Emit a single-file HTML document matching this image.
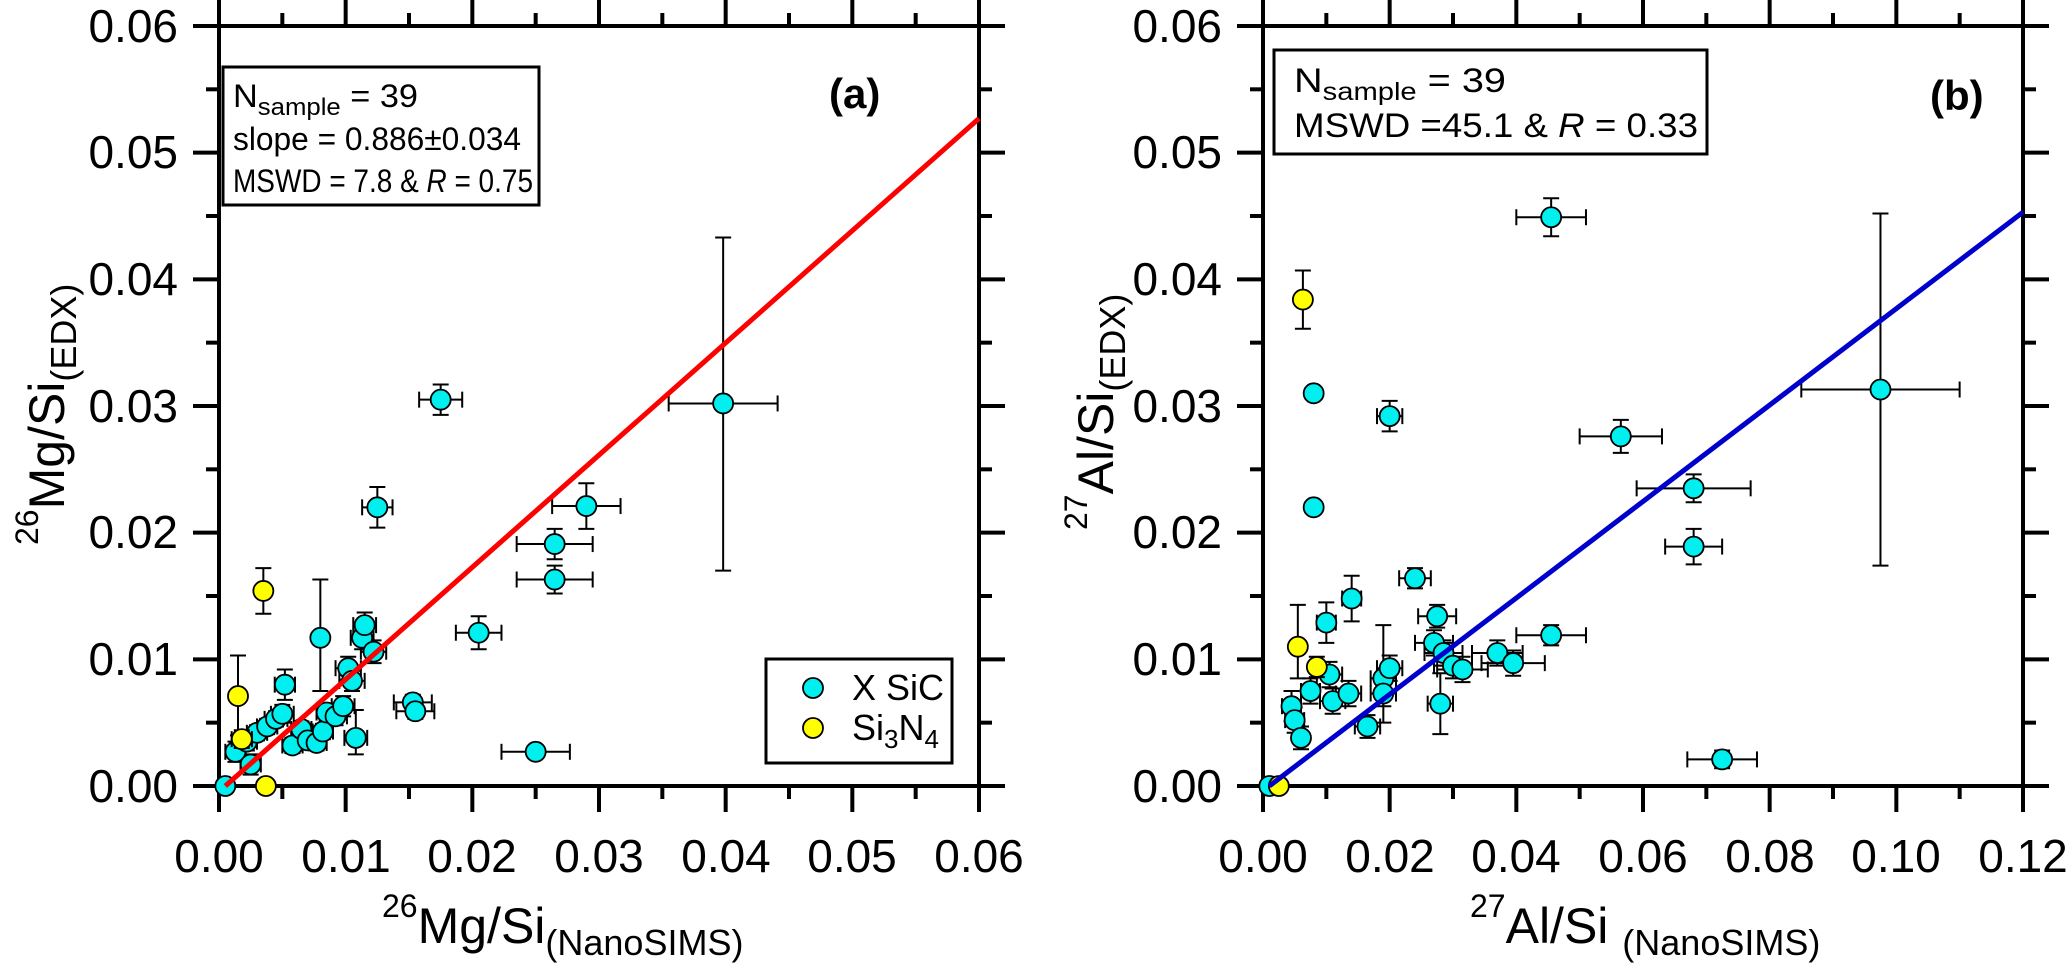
<!DOCTYPE html>
<html><head><meta charset="utf-8"><style>
html,body{margin:0;padding:0;background:#fff;}
svg{display:block;font-family:"Liberation Sans",Arial,sans-serif;}
</style></head><body>
<svg id="s" width="2070" height="967" viewBox="0 0 2070 967" xmlns="http://www.w3.org/2000/svg">
<g id="g"></g>
<g font-size="46" text-anchor="end">
<text x="178" y="802">0.00</text><text x="178" y="675">0.01</text><text x="178" y="548">0.02</text><text x="178" y="422">0.03</text><text x="178" y="295">0.04</text><text x="178" y="168">0.05</text><text x="178" y="42">0.06</text>
<text x="1222" y="802">0.00</text><text x="1222" y="675">0.01</text><text x="1222" y="548">0.02</text><text x="1222" y="422">0.03</text><text x="1222" y="295">0.04</text><text x="1222" y="168">0.05</text><text x="1222" y="42">0.06</text>
</g>
<g font-size="46" text-anchor="middle">
<text x="219" y="872">0.00</text><text x="346" y="872">0.01</text><text x="472" y="872">0.02</text><text x="599" y="872">0.03</text><text x="726" y="872">0.04</text><text x="852" y="872">0.05</text><text x="979" y="872">0.06</text>
<text x="1263" y="872">0.00</text><text x="1390" y="872">0.02</text><text x="1516" y="872">0.04</text><text x="1643" y="872">0.06</text><text x="1770" y="872">0.08</text><text x="1896" y="872">0.10</text><text x="2023" y="872">0.12</text>
</g>
<text x="382" y="943" font-size="50"><tspan font-size="32" dy="-26">26</tspan><tspan dy="26">Mg/Si</tspan><tspan font-size="36" dy="12">(NanoSIMS)</tspan></text>
<text x="1470" y="943" font-size="50"><tspan font-size="32" dy="-26">27</tspan><tspan dy="26">Al/Si </tspan><tspan font-size="36" dy="12">(NanoSIMS)</tspan></text>
<text transform="translate(64,545) rotate(-90)" font-size="50"><tspan font-size="32" dy="-26">26</tspan><tspan dy="26">Mg/Si</tspan><tspan font-size="36" dy="12">(EDX)</tspan></text>
<text transform="translate(1113,530) rotate(-90)" font-size="50"><tspan font-size="32" dy="-26">27</tspan><tspan dy="26">Al/Si</tspan><tspan font-size="36" dy="12">(EDX)</tspan></text>
<rect x="223" y="67" width="316" height="138" fill="#fff" stroke="#000" stroke-width="3"/>
<g font-size="32">
<text x="233" y="107" textLength="185" lengthAdjust="spacingAndGlyphs">N<tspan font-size="24" dy="8">sample</tspan><tspan dy="-8"> = 39</tspan></text>
<text x="233" y="150" textLength="288" lengthAdjust="spacingAndGlyphs">slope = 0.886±0.034</text>
<text x="233" y="192" textLength="300" lengthAdjust="spacingAndGlyphs">MSWD = 7.8 &amp; <tspan font-style="italic">R</tspan> = 0.75</text>
</g>
<text x="829" y="108" font-size="42" font-weight="bold">(a)</text>
<rect x="1274" y="50" width="433" height="104" fill="#fff" stroke="#000" stroke-width="3"/>
<g font-size="34">
<text x="1294" y="92" textLength="212" lengthAdjust="spacingAndGlyphs">N<tspan font-size="25" dy="8">sample</tspan><tspan dy="-8"> = 39</tspan></text>
<text x="1294" y="137" textLength="404" lengthAdjust="spacingAndGlyphs">MSWD =45.1 &amp; <tspan font-style="italic">R</tspan> = 0.33</text>
</g>
<text x="1930" y="110" font-size="42" font-weight="bold">(b)</text>
<rect x="766" y="659" width="186" height="104" fill="#fff" stroke="#000" stroke-width="3"/>
<circle cx="813" cy="688" r="10" fill="#00f0f0" stroke="#000" stroke-width="1.8"/>
<circle cx="813" cy="728" r="10" fill="#ffff00" stroke="#000" stroke-width="1.8"/>
<text x="852" y="700" font-size="36">X SiC</text>
<text x="852" y="740" font-size="36">Si<tspan font-size="26" dy="8">3</tspan><tspan dy="-8">N</tspan><tspan font-size="26" dy="8">4</tspan></text>
</svg>
<script>
var g=document.getElementById('g'),NS='http://www.w3.org/2000/svg';
function el(t,a){var e=document.createElementNS(NS,t);for(var k in a)e.setAttribute(k,a[k]);g.appendChild(e);return e;}
function ln(x1,y1,x2,y2,w,c){el('line',{x1:x1,y1:y1,x2:x2,y2:y2,stroke:c||'#000','stroke-width':w});}
var Y0=786,S=12667;
function frame(L,R,xs){
 var T=26,B=786;
 el('rect',{x:L,y:T,width:R-L,height:B-T,fill:'none',stroke:'#000','stroke-width':4});
 for(var i=0;i<=12;i++){var y=B-i*0.005*S,len=(i%2==0)?26:13;ln(L-len,y,L,y,4);ln(R,y,R+len,y,4);}
 var n=Math.round(xs.max/xs.minor);
 for(var i=0;i<=n;i++){var x=L+i*(R-L)/n,len=(i%2==0)?26:13;ln(x,B,x,B+len,4);ln(x,T-len,x,T,4);}
}
frame(219,979,{max:0.06,minor:0.005});
frame(1263,2023,{max:0.12,minor:0.01});
function pts(list,X,col){
 list.forEach(function(p){
  var x=X(p[0]),y=Y0-p[1]*S;
  if(p[2]){var a=X(p[0]-p[2]),b=X(p[0]+p[2]);ln(a,y,b,y,2);ln(a,y-8,a,y+8,2);ln(b,y-8,b,y+8,2);}
  if(p[3]){var lo,hi;if(p[3].length){lo=p[3][0];hi=p[3][1];}else{lo=p[1]-p[3];hi=p[1]+p[3];}
   var ya=Y0-lo*S,yb=Y0-hi*S;ln(x,ya,x,yb,2);ln(x-8,ya,x+8,ya,2);ln(x-8,yb,x+8,yb,2);}
 });
 list.forEach(function(p){el('circle',{cx:X(p[0]),cy:Y0-p[1]*S,r:10,fill:col,stroke:'#000','stroke-width':1.8});});
}
var XA=function(v){return 219+v*S;},XB=function(v){return 1263+v*6333;};
var aC=[[0.0005,0,0,0],[0.0013,0.0027,0.0008,0.0008],[0.0025,0.0017,0.0008,0.0008],[0.0022,0.0035,0.0008,0.0007],[0.003,0.0042,0.0008,0.0006],[0.0038,0.0047,0.0008,0.0006],[0.0045,0.0053,0.0009,0.0006],[0.005,0.0057,0.0009,0.0007],[0.0052,0.008,0.0008,0.0012],[0.0058,0.0032,0.0008,0.0006],[0.0065,0.0045,0.0008,0.0006],[0.007,0.0036,0.0008,0.0006],[0.0077,0.0034,0.0008,0.0006],[0.008,0.0117,0.0005,[0.0075,0.0163]],[0.0082,0.0043,0.0008,0.0006],[0.0085,0.0058,0.0008,0.0007],[0.0092,0.0055,0.0009,0.0007],[0.0098,0.0063,0.0009,0.0008],[0.0102,0.0093,0.001,0.0009],[0.0105,0.0083,0.001,0.0008],[0.0108,0.0038,0.0009,[0.0025,0.006]],[0.0113,0.0117,0.0009,0.0009],[0.0115,0.0127,0.0009,0.001],[0.0122,0.0106,0.001,0.0009],[0.0125,0.022,0.0012,0.0016],[0.0153,0.0066,0.0015,0.0006],[0.0155,0.0059,0.0015,0.0006],[0.0175,0.0305,0.0017,0.0012],[0.0205,0.0121,0.0018,0.0013],[0.025,0.0027,0.0027,0.0005],[0.0265,0.0191,0.003,0.0012],[0.0265,0.0163,0.003,0.0011],[0.029,0.0221,0.0027,0.0018],[0.0398,0.0302,0.0043,[0.017,0.0433]]];
var aY=[[0.0035,0.0154,0,0.0018],[0.0015,0.0071,0,[0.004,0.0103]],[0.0018,0.0037,0.0008,0.0007],[0.0037,0,0,0]];
var bC=[[0.001,0,0,0],[0.0045,0.0063,0.0015,0.0012],[0.005,0.0052,0.0015,0.001],[0.006,0.0038,0.001,0.0009],[0.0075,0.0075,0.0015,0.001],[0.008,0.031,0,0],[0.008,0.022,0,0],[0.01,0.0129,0.0015,0.0016],[0.0105,0.0088,0.002,0.001],[0.011,0.0067,0.002,0.001],[0.0135,0.0073,0.002,0.001],[0.014,0.0148,0.0015,0.0018],[0.0165,0.0047,0.002,0.0009],[0.019,0.0085,0.002,[0.005,0.0127]],[0.019,0.0073,0.002,0.001],[0.02,0.0093,0.002,0.001],[0.02,0.0292,0.002,0.0012],[0.024,0.0164,0.0025,0.0008],[0.027,0.0113,0.003,0.001],[0.0275,0.0134,0.003,0.0009],[0.028,0.0065,0.002,0.0024],[0.0285,0.0105,0.003,0.001],[0.03,0.0095,0.003,0.001],[0.0315,0.0092,0.004,0.001],[0.037,0.0105,0.004,0.001],[0.0395,0.0097,0.005,0.001],[0.0455,0.0119,0.0055,0.0008],[0.0455,0.0449,0.0055,0.0015],[0.0565,0.0276,0.0065,0.0013],[0.068,0.0235,0.009,0.0011],[0.068,0.0189,0.0045,0.0014],[0.0725,0.0021,0.0055,0.0007],[0.0975,0.0313,0.0125,[0.0174,0.0452]]];
var bY=[[0.0063,0.0384,0,0.0023],[0.0055,0.011,0,[0.0085,0.0143]],[0.0085,0.0094,0,0.0008],[0.0025,0,0,0]];
pts(aC,XA,'#00f0f0');pts(aY,XA,'#ffff00');
pts(bC,XB,'#00f0f0');pts(bY,XB,'#ffff00');
ln(XA(0.0005),Y0,XA(0.06),Y0-0.0527*S,5,'#ff0000');
ln(XB(0.001),Y0,XB(0.12),Y0-0.0453*S,5,'#0000cc');
</script>
</body></html>
